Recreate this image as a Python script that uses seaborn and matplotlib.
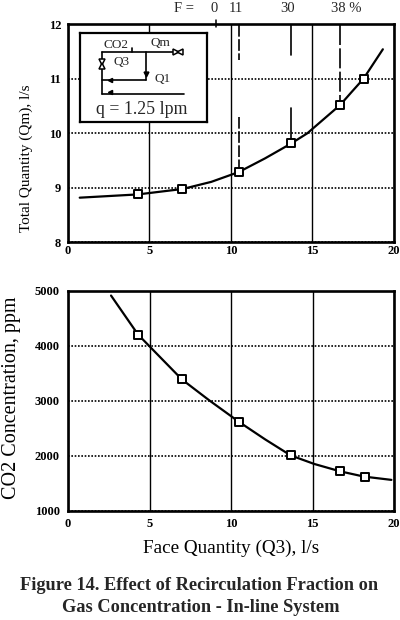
import matplotlib
matplotlib.use("Agg")
import matplotlib.pyplot as plt
import seaborn as sns
import pandas as pd
from matplotlib.transforms import blended_transform_factory

# ---------------- data ----------------
q3_points = [4.3, 7.0, 10.5, 13.7, 16.7, 18.2]          # Face quantity Q3, l/s
qm_points = [8.88, 8.98, 9.29, 9.82, 10.52, 11.0]       # Total quantity Qm, l/s
co2_points = [4200, 3385, 2610, 2005, 1715, 1620]       # CO2 concentration, ppm

qm_curve_x = [0.72, 4.3, 7.05, 8.8, 10.49, 12.1, 13.69, 14.7, 16.72, 17.43, 18.15, 19.34]
qm_curve_y = [8.82, 8.88, 8.98, 9.11, 9.29, 9.54, 9.81, 10.0, 10.52, 10.76, 11.0, 11.54]

co2_curve_x = [2.64, 4.3, 4.96, 6.99, 8.69, 10.51, 12.1, 13.66, 15.1, 16.7, 18.15, 19.84]
co2_curve_y = [4910, 4200, 4000, 3385, 3000, 2610, 2295, 2005, 1850, 1715, 1620, 1560]

f_labels = ["0", "11", "30", "38 %"]                    # recirculation fraction F
f_label_x = [9.0, 10.34, 13.49, 17.1]
f_zero_x = 9.1

x_ticks = [0, 5, 10, 15, 20]
qm_ticks = [8, 9, 10, 11, 12]
co2_ticks = [1000, 2000, 3000, 4000, 5000]

top_df = pd.DataFrame({"q3": q3_points, "qm": qm_points})
bot_df = pd.DataFrame({"q3": q3_points, "co2": co2_points})

# ---------------- style ----------------
sns.set_theme(style="white")
plt.rcParams["font.family"] = ["Liberation Serif", "DejaVu Serif"]

fig = plt.figure(figsize=(4, 6.2), dpi=100)
fig.patch.set_facecolor("white")
ax1 = fig.add_axes([0.17, 0.609, 0.814, 0.352])
ax2 = fig.add_axes([0.17, 0.1763, 0.815, 0.355])


def style_axes(ax, yticks, xpad, ypad):
    ax.set_xlim(0, 20)
    ax.set_xticks(x_ticks)
    ax.set_ylim(yticks[0], yticks[-1])
    ax.set_yticks(yticks)
    ax.xaxis.grid(True, color="black", lw=1.0, ls="-")
    ax.yaxis.grid(True, color="black", lw=1.2, ls=(0, (1, 1)))
    ax.set_axisbelow(True)
    for sp in ax.spines.values():
        sp.set_visible(True)
        sp.set_color("black")
        sp.set_linewidth(1.9)
    ax.tick_params(axis="x", length=0, labelsize=9, pad=xpad, colors="black")
    ax.tick_params(axis="y", length=0, labelsize=9, pad=ypad, colors="black")
    for lbl in ax.get_xticklabels() + ax.get_yticklabels():
        lbl.set_fontweight("bold")


style_axes(ax1, qm_ticks, 2, 5)
style_axes(ax2, co2_ticks, 5, 6)

# ---------------- top panel ----------------
sns.lineplot(x=qm_curve_x, y=qm_curve_y, ax=ax1, color="black", lw=1.6,
             sort=False, estimator=None, zorder=4)
sns.scatterplot(data=top_df, x="q3", y="qm", ax=ax1, marker="s", s=28,
                facecolor="white", edgecolor="black", linewidth=1.4, zorder=6)

# F-markers (dashed verticals)
ax1.plot([q3_points[2]] * 2, [11.98, 11.34], color="black", lw=1.2, ls=(0, (7, 1.5)))
ax1.plot([q3_points[2]] * 2, [10.30, 9.36], color="black", lw=1.2, ls=(0, (7, 1.5)))
ax1.plot([q3_points[3]] * 2, [11.98, 11.43], color="black", lw=1.2)
ax1.plot([q3_points[3]] * 2, [10.46, 9.9], color="black", lw=1.2)
ax1.plot([q3_points[4]] * 2, [11.98, 10.6], color="black", lw=1.2, ls=(0, (12, 2)))

trans = blended_transform_factory(ax1.transData, ax1.transAxes)
ax1.text(7.14, 1.072, "F =", transform=trans, ha="center", va="center", fontsize=10.5)
for xv, lab in zip(f_label_x, f_labels):
    ax1.text(xv, 1.072, lab, transform=trans, ha="center", va="center", fontsize=10.5)
ax1.plot([f_zero_x, f_zero_x], [0.985, 1.02], transform=trans, color="black",
         lw=1.1, clip_on=False)

ax1.set_xlabel("")
ax1.set_ylabel("Total Quantity (Qm), l/s", fontsize=11, va="center", color="black")
ax1.yaxis.set_label_coords(-0.129, 0.386)

# inset schematic
ins = ax1.inset_axes([0.037, 0.55, 0.39, 0.409])
ins.set_xlim(0, 1)
ins.set_ylim(0, 1)
ins.set_xticks([])
ins.set_yticks([])
ins.set_facecolor("white")
for sp in ins.spines.values():
    sp.set_visible(True)
    sp.set_color("black")
    sp.set_linewidth(1.6)
kw = dict(color="black", lw=1.2)
ins.plot([0.171, 0.735], [0.79, 0.79], **kw)
ins.plot([0.755], [0.79], marker=">", ms=4.5, mfc="white", mec="black", mew=1.1)
ins.plot([0.79], [0.79], marker="<", ms=4.5, mfc="white", mec="black", mew=1.1)
ins.plot([0.407, 0.407], [0.79, 0.83], **kw)
ins.plot([0.171, 0.171], [0.79, 0.322], **kw)
ins.plot([0.171], [0.675], marker="v", ms=4.5, mfc="white", mec="black", mew=1.1)
ins.plot([0.171], [0.635], marker="^", ms=4.5, mfc="white", mec="black", mew=1.1)
ins.plot([0.52, 0.52], [0.79, 0.48], **kw)
ins.plot([0.52], [0.54], marker="v", ms=3.5, color="black")
ins.plot([0.52, 0.171], [0.48, 0.48], **kw)
ins.plot([0.236], [0.48], marker="<", ms=3, color="black")
ins.plot([0.171, 0.819], [0.322, 0.322], **kw)
ins.plot([0.236], [0.34], marker="<", ms=3, color="black")
ins.text(0.183, 0.865, "CO2", ha="left", va="center", fontsize=9.5)
ins.text(0.636, 0.89, "Qm", ha="center", va="center", fontsize=9.5)
ins.text(0.327, 0.674, "Q3", ha="center", va="center", fontsize=9.5)
ins.text(0.59, 0.487, "Q1", ha="left", va="center", fontsize=9.5)
ins.text(0.486, 0.148, "q = 1.25 lpm", ha="center", va="center", fontsize=12.8)

# ---------------- bottom panel ----------------
sns.lineplot(x=co2_curve_x, y=co2_curve_y, ax=ax2, color="black", lw=1.6,
             sort=False, estimator=None, zorder=4)
sns.scatterplot(data=bot_df, x="q3", y="co2", ax=ax2, marker="s", s=28,
                facecolor="white", edgecolor="black", linewidth=1.4, zorder=6)

ax2.set_ylabel("CO2 Concentration, ppm", fontsize=14.5, va="center", color="black")
ax2.yaxis.set_label_coords(-0.173, 0.512)
ax2.set_xlabel("Face Quantity (Q3), l/s", fontsize=13.8, va="center", color="black")
ax2.xaxis.set_label_coords(0.5, -0.17)

fig.text(0.4975, 1 - 585 / 620, "Figure 14. Effect of Recirculation Fraction on",
         ha="center", va="center", fontsize=13.2, fontweight="bold")
fig.text(0.5025, 1 - 607 / 620, "Gas Concentration - In-line System",
         ha="center", va="center", fontsize=13.2, fontweight="bold")

fig.savefig("out.png", dpi=100, facecolor="white")
